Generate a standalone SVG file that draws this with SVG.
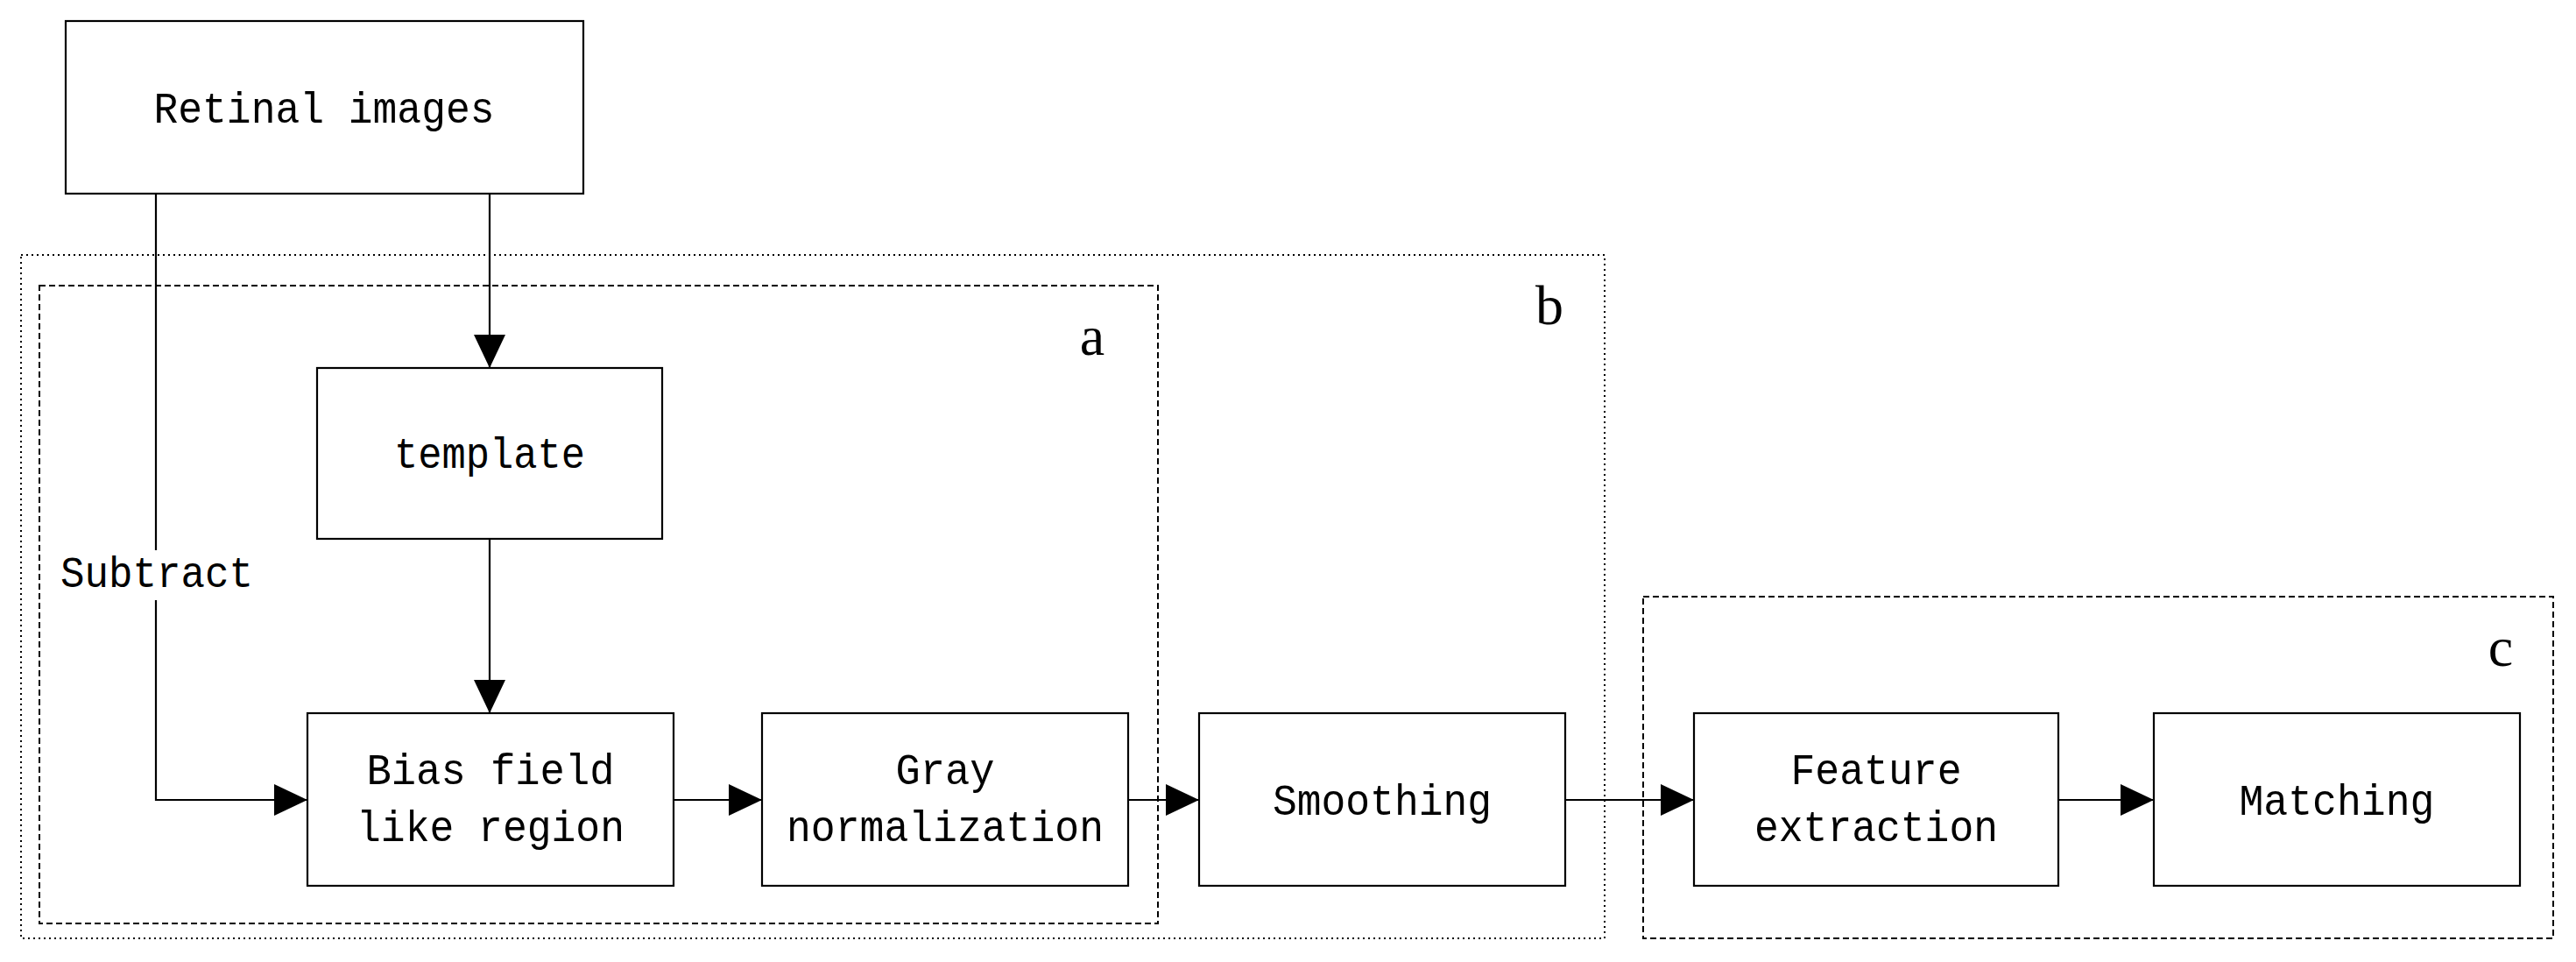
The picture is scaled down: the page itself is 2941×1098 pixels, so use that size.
<svg xmlns="http://www.w3.org/2000/svg" width="2941" height="1098" viewBox="0 0 2941 1098">
<style>
.box{fill:#fff;stroke:#000;stroke-width:2.2}
.t{font-family:"Liberation Mono",monospace;font-size:50px;fill:#000;text-anchor:middle}
.lab{font-family:"Liberation Serif",serif;font-size:64px;fill:#000;text-anchor:middle}
.c{fill:none;stroke:#000;stroke-width:2.2}
</style>
<defs>
<marker id="ah" markerUnits="userSpaceOnUse" markerWidth="40" markerHeight="40" viewBox="0 0 40 40" refX="38" refY="20" orient="auto">
<path d="M0,2 L38,20 L0,38 Z" fill="#000"/>
</marker>
</defs>
<rect x="24" y="291" width="1808" height="780" fill="none" stroke="#000" stroke-width="2" stroke-dasharray="2,4"/>
<rect x="45" y="326" width="1277" height="728" fill="none" stroke="#000" stroke-width="2" stroke-dasharray="7,4"/>
<rect x="1876" y="681" width="1039" height="390" fill="none" stroke="#000" stroke-width="2" stroke-dasharray="7,4"/>
<text class="lab" x="1247" y="405">a</text>
<text class="lab" x="1769" y="370">b</text>
<text class="lab" x="2855" y="760">c</text>
<g id="connectors">
<line class="c" x1="559" y1="221" x2="559" y2="420" marker-end="url(#ah)"/>
<polyline class="c" points="178,221 178,628"/>
<polyline class="c" points="178,685 178,913 351,913" marker-end="url(#ah)"/>
<line class="c" x1="559" y1="615" x2="559" y2="814" marker-end="url(#ah)"/>
<line class="c" x1="769" y1="913" x2="870" y2="913" marker-end="url(#ah)"/>
<line class="c" x1="1288" y1="913" x2="1369" y2="913" marker-end="url(#ah)"/>
<line class="c" x1="1787" y1="913" x2="1934" y2="913" marker-end="url(#ah)"/>
<line class="c" x1="2350" y1="913" x2="2459" y2="913" marker-end="url(#ah)"/>
<text class="t" x="179" y="670" textLength="220" lengthAdjust="spacingAndGlyphs">Subtract</text>
</g>
<g id="retinal"><rect class="box" x="75" y="24" width="591" height="197"/><text class="t" x="370" y="140" textLength="389" lengthAdjust="spacingAndGlyphs">Retinal images</text></g>
<g id="template"><rect class="box" x="362" y="420" width="394" height="195"/><text class="t" x="559" y="534" textLength="218" lengthAdjust="spacingAndGlyphs">template</text></g>
<g id="bias"><rect class="box" x="351" y="814" width="418" height="197"/><text class="t" x="560" y="895" textLength="283" lengthAdjust="spacingAndGlyphs">Bias field</text><text class="t" x="560" y="960" textLength="306" lengthAdjust="spacingAndGlyphs">like region</text></g>
<g id="gray"><rect class="box" x="870" y="814" width="418" height="197"/><text class="t" x="1079" y="895" textLength="113" lengthAdjust="spacingAndGlyphs">Gray</text><text class="t" x="1079" y="960" textLength="362" lengthAdjust="spacingAndGlyphs">normalization</text></g>
<g id="smoothing"><rect class="box" x="1369" y="814" width="418" height="197"/><text class="t" x="1578" y="930" textLength="250" lengthAdjust="spacingAndGlyphs">Smoothing</text></g>
<g id="feature"><rect class="box" x="1934" y="814" width="416" height="197"/><text class="t" x="2142" y="895" textLength="195" lengthAdjust="spacingAndGlyphs">Feature</text><text class="t" x="2142" y="960" textLength="278" lengthAdjust="spacingAndGlyphs">extraction</text></g>
<g id="matching"><rect class="box" x="2459" y="814" width="418" height="197"/><text class="t" x="2668" y="930" textLength="223" lengthAdjust="spacingAndGlyphs">Matching</text></g>
</svg>
